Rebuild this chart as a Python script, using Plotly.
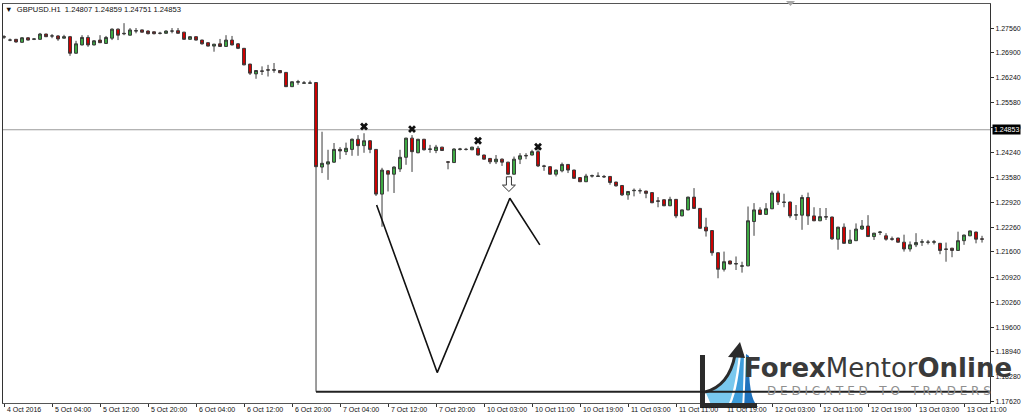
import plotly.graph_objects as go

# GBPUSD H1, 4 Oct 2016 20:00 -> 13 Oct 2016 ~14:00 (one bar per hour, weekend skipped)
opens = [
    1.2733, 1.2724, 1.2726, 1.2718, 1.2730, 1.2726, 1.2726, 1.2740, 1.2735, 1.2735,
    1.2729, 1.2733, 1.2689, 1.2711, 1.2731, 1.2711, 1.2724, 1.2715, 1.2729, 1.2753,
    1.2742, 1.2737, 1.2748, 1.2751, 1.2748, 1.2746, 1.2742, 1.2742, 1.2748, 1.2749,
    1.2745, 1.2726, 1.2733, 1.2724, 1.2717, 1.2708, 1.2714, 1.2707, 1.2724, 1.2714,
    1.2702, 1.2660, 1.2634, 1.2642, 1.2645, 1.2645, 1.2643, 1.2638, 1.2600, 1.2612,
    1.2609, 1.2609, 1.2611, 1.2386, 1.2394, 1.2399, 1.2433, 1.2427, 1.2433, 1.2460,
    1.2443, 1.2456, 1.2433, 1.2314, 1.2376, 1.2367, 1.2381, 1.2412, 1.2463, 1.2424,
    1.2460, 1.2433, 1.2430, 1.2439, 1.2400, 1.2398, 1.2433, 1.2433, 1.2432, 1.2436,
    1.2418, 1.2409, 1.2400, 1.2407, 1.2399, 1.2367, 1.2407, 1.2417, 1.2418, 1.2427,
    1.2389, 1.2387, 1.2367, 1.2376, 1.2393, 1.2378, 1.2358, 1.2347, 1.2362, 1.2361,
    1.2361, 1.2361, 1.2346, 1.2337, 1.2312, 1.2323, 1.2323, 1.2322, 1.2318, 1.2296,
    1.2299, 1.2283, 1.2300, 1.2256, 1.2272, 1.2306, 1.2276, 1.2226, 1.2217, 1.2158,
    1.2114, 1.2136, 1.2128, 1.2122, 1.2123, 1.2241, 1.2272, 1.2260, 1.2275, 1.2317,
    1.2293, 1.2293, 1.2258, 1.2258, 1.2305, 1.2256, 1.2243, 1.2254, 1.2253, 1.2194,
    1.2226, 1.2183, 1.2190, 1.2221, 1.2229, 1.2201, 1.2212, 1.2203, 1.2195, 1.2197,
    1.2186, 1.2168, 1.2179, 1.2186, 1.2186, 1.2186, 1.2183, 1.2168, 1.2170, 1.2164,
    1.2190, 1.2203, 1.2213, 1.2195,
]
highs = [
    1.2737, 1.2728, 1.2727, 1.2732, 1.2732, 1.2729, 1.2743, 1.2741, 1.2740, 1.2737,
    1.2738, 1.2735, 1.2722, 1.2737, 1.2737, 1.2724, 1.2737, 1.2735, 1.2755, 1.2755,
    1.2769, 1.2756, 1.2756, 1.2752, 1.2750, 1.2747, 1.2746, 1.2750, 1.2756, 1.2756,
    1.2746, 1.2734, 1.2734, 1.2725, 1.2718, 1.2714, 1.2727, 1.2737, 1.2735, 1.2716,
    1.2703, 1.2661, 1.2644, 1.2654, 1.2658, 1.2663, 1.2644, 1.2639, 1.2614, 1.2618,
    1.2615, 1.2616, 1.2612, 1.2480, 1.2432, 1.2450, 1.2439, 1.2451, 1.2462, 1.2471,
    1.2476, 1.2458, 1.2434, 1.2384, 1.2378, 1.2388, 1.2432, 1.2464, 1.2471, 1.2461,
    1.2461, 1.2445, 1.2445, 1.2440, 1.2401, 1.2436, 1.2437, 1.2437, 1.2440, 1.2442,
    1.2419, 1.2410, 1.2418, 1.2409, 1.2400, 1.2414, 1.2423, 1.2423, 1.2432, 1.2439,
    1.2392, 1.2388, 1.2379, 1.2398, 1.2394, 1.2379, 1.2359, 1.2368, 1.2366, 1.2372,
    1.2365, 1.2362, 1.2347, 1.2338, 1.2322, 1.2329, 1.2329, 1.2323, 1.2319, 1.2306,
    1.2300, 1.2307, 1.2301, 1.2273, 1.2307, 1.2330, 1.2277, 1.2251, 1.2218, 1.2159,
    1.2161, 1.2137, 1.2148, 1.2134, 1.2281, 1.2290, 1.2279, 1.2290, 1.2323, 1.2323,
    1.2315, 1.2294, 1.2285, 1.2312, 1.2318, 1.2279, 1.2277, 1.2277, 1.2254, 1.2227,
    1.2236, 1.2219, 1.2236, 1.2245, 1.2258, 1.2211, 1.2216, 1.2210, 1.2201, 1.2198,
    1.2206, 1.2188, 1.2210, 1.2194, 1.2192, 1.2192, 1.2184, 1.2185, 1.2171, 1.2214,
    1.2206, 1.2217, 1.2214, 1.2203,
]
lows = [
    1.2727, 1.2721, 1.2717, 1.2717, 1.2723, 1.2724, 1.2725, 1.2732, 1.2729, 1.2722,
    1.2728, 1.2682, 1.2688, 1.2710, 1.2706, 1.2710, 1.2716, 1.2714, 1.2724, 1.2724,
    1.2737, 1.2736, 1.2742, 1.2744, 1.2739, 1.2739, 1.2739, 1.2741, 1.2742, 1.2741,
    1.2725, 1.2725, 1.2723, 1.2712, 1.2707, 1.2693, 1.2706, 1.2706, 1.2710, 1.2700,
    1.2657, 1.2631, 1.2621, 1.2631, 1.2627, 1.2637, 1.2636, 1.2599, 1.2599, 1.2605,
    1.2609, 1.2609, 1.1788, 1.2370, 1.2352, 1.2397, 1.2407, 1.2418, 1.2416, 1.2416,
    1.2424, 1.2423, 1.2309, 1.2227, 1.2321, 1.2317, 1.2373, 1.2392, 1.2373, 1.2423,
    1.2430, 1.2424, 1.2423, 1.2429, 1.2380, 1.2397, 1.2430, 1.2430, 1.2431, 1.2417,
    1.2406, 1.2394, 1.2394, 1.2389, 1.2366, 1.2366, 1.2394, 1.2407, 1.2417, 1.2386,
    1.2376, 1.2366, 1.2361, 1.2372, 1.2370, 1.2355, 1.2346, 1.2346, 1.2358, 1.2360,
    1.2357, 1.2339, 1.2334, 1.2309, 1.2299, 1.2308, 1.2315, 1.2303, 1.2290, 1.2279,
    1.2282, 1.2282, 1.2250, 1.2255, 1.2271, 1.2275, 1.2222, 1.2201, 1.2150, 1.2090,
    1.2108, 1.2127, 1.2112, 1.2105, 1.2122, 1.2203, 1.2259, 1.2259, 1.2274, 1.2285,
    1.2279, 1.2250, 1.2245, 1.2219, 1.2232, 1.2242, 1.2242, 1.2245, 1.2192, 1.2166,
    1.2182, 1.2182, 1.2189, 1.2219, 1.2200, 1.2192, 1.2205, 1.2190, 1.2190, 1.2185,
    1.2161, 1.2161, 1.2173, 1.2176, 1.2180, 1.2180, 1.2154, 1.2134, 1.2146, 1.2163,
    1.2179, 1.2202, 1.2183, 1.2185,
]
closes = [
    1.2732, 1.2724, 1.2719, 1.2730, 1.2724, 1.2727, 1.2740, 1.2733, 1.2735, 1.2727,
    1.2733, 1.2689, 1.2714, 1.2731, 1.2711, 1.2722, 1.2717, 1.2731, 1.2753, 1.2737,
    1.2741, 1.2751, 1.2749, 1.2745, 1.2741, 1.2741, 1.2742, 1.2748, 1.2748, 1.2742,
    1.2726, 1.2733, 1.2724, 1.2714, 1.2708, 1.2713, 1.2707, 1.2724, 1.2711, 1.2702,
    1.2658, 1.2636, 1.2643, 1.2641, 1.2644, 1.2644, 1.2637, 1.2600, 1.2613, 1.2613,
    1.2610, 1.2610, 1.2387, 1.2396, 1.2400, 1.2433, 1.2429, 1.2436, 1.2460, 1.2443,
    1.2456, 1.2433, 1.2314, 1.2378, 1.2367, 1.2386, 1.2412, 1.2463, 1.2427, 1.2460,
    1.2432, 1.2434, 1.2439, 1.2430, 1.2399, 1.2434, 1.2434, 1.2433, 1.2439, 1.2418,
    1.2407, 1.2400, 1.2407, 1.2399, 1.2367, 1.2407, 1.2416, 1.2416, 1.2427, 1.2389,
    1.2388, 1.2367, 1.2378, 1.2393, 1.2378, 1.2356, 1.2347, 1.2362, 1.2363, 1.2362,
    1.2360, 1.2345, 1.2336, 1.2312, 1.2321, 1.2324, 1.2323, 1.2316, 1.2291, 1.2295,
    1.2283, 1.2300, 1.2256, 1.2272, 1.2306, 1.2276, 1.2223, 1.2216, 1.2158, 1.2114,
    1.2134, 1.2128, 1.2129, 1.2123, 1.2243, 1.2272, 1.2260, 1.2275, 1.2317, 1.2293,
    1.2292, 1.2256, 1.2259, 1.2305, 1.2256, 1.2243, 1.2254, 1.2253, 1.2195, 1.2226,
    1.2183, 1.2192, 1.2221, 1.2229, 1.2201, 1.2210, 1.2213, 1.2194, 1.2194, 1.2186,
    1.2168, 1.2179, 1.2185, 1.2187, 1.2186, 1.2187, 1.2164, 1.2167, 1.2164, 1.2190,
    1.2205, 1.2216, 1.2194, 1.2194,
]
bars = list(range(len(opens)))

tick_bars = list(range(0, 161, 8))
tick_labels = [
    "4 Oct 2016", "5 Oct 04:00", "5 Oct 12:00", "5 Oct 20:00", "6 Oct 04:00",
    "6 Oct 12:00", "6 Oct 20:00", "7 Oct 04:00", "7 Oct 12:00", "7 Oct 20:00",
    "10 Oct 03:00", "10 Oct 11:00", "10 Oct 19:00", "11 Oct 03:00", "11 Oct 11:00",
    "11 Oct 19:00", "12 Oct 03:00", "12 Oct 11:00", "12 Oct 19:00", "13 Oct 03:00",
    "13 Oct 11:00",
]
price_ticks = [1.27560, 1.26900, 1.26240, 1.25580, 1.24900, 1.24240, 1.23580, 1.22920,
               1.22260, 1.21600, 1.20920, 1.20260, 1.19600, 1.18940, 1.18280, 1.17620]

bid_price = 1.24853
crash_low = 1.1788
cross_bars = [60, 68, 79, 89]
cross_prices = [1.2494, 1.2487, 1.2456, 1.2440]
v_bars = [62.1, 72.2, 84.3, 89.3]
v_prices = [1.2285, 1.1839, 1.2303, 1.2179]
arrow_bar = 84.15
arrow_top, arrow_neck, arrow_tip = 1.2360, 1.2338, 1.2321

x_range = [-0.17, 164.33]
y_range = [1.1758, 1.2820]
FONT = "Liberation Sans, Arial, sans-serif"
LOGO_FONT = "DejaVu Sans, sans-serif"

# plot area in pixels (for the watermark drawn in paper coords)
PL, PR, PT, PB = 3, 990, 4, 403


def pp(x, y):
    return (x - PL) / (PR - PL), (PB - y) / (PB - PT)


def path(points, close=True):
    s = ""
    for k, (x, y) in enumerate(points):
        px, py = pp(x, y)
        s += ("M" if k == 0 else "L") + f"{px:.5f},{py:.5f} "
    return s + ("Z" if close else "")


def qpath(pts):
    # list of (command, [points]) in pixels -> svg path in paper units
    s = ""
    for cmd, coords in pts:
        conv = [pp(x, y) for x, y in coords]
        s += cmd + " ".join(f"{a:.5f},{b:.5f}" for a, b in conv) + " "
    return s


fig = go.Figure()
fig.add_trace(go.Candlestick(
    x=bars, open=opens, high=highs, low=lows, close=closes,
    increasing=dict(line=dict(color="#3a3a3a", width=1), fillcolor="#3fae45"),
    decreasing=dict(line=dict(color="#3a3a3a", width=1), fillcolor="#d10000"),
    whiskerwidth=0, showlegend=False, hoverinfo="skip",
))
fig.add_trace(go.Scatter(
    x=v_bars, y=v_prices, mode="lines",
    line=dict(color="#111111", width=1.6), showlegend=False, hoverinfo="skip",
))
fig.add_trace(go.Scatter(
    x=cross_bars, y=cross_prices, mode="markers",
    marker=dict(symbol="x", size=7, color="#111111", line=dict(width=0)),
    showlegend=False, hoverinfo="skip",
))

shapes = [
    dict(type="line", xref="paper", x0=0, x1=1, yref="y", y0=bid_price, y1=bid_price,
         line=dict(color="#9a9a9a", width=1), layer="below"),
]

# hollow down arrow
sw, hw = 0.42, 1.08
arrow_path = (f"M{arrow_bar - sw},{arrow_top} L{arrow_bar + sw},{arrow_top} "
              f"L{arrow_bar + sw},{arrow_neck} L{arrow_bar + hw},{arrow_neck} "
              f"L{arrow_bar},{arrow_tip} L{arrow_bar - hw},{arrow_neck} "
              f"L{arrow_bar - sw},{arrow_neck} Z")
shapes.append(dict(type="path", xref="x", yref="y", path=arrow_path,
                   fillcolor="white", line=dict(color="#333333", width=1)))

# ForexMentorOnline watermark
shapes += [
    dict(type="path", xref="paper", yref="paper", fillcolor="#79c8ee", line=dict(width=0),
         path=qpath([("M", [(706, 393)]), ("Q", [(728, 388), (736, 354)]),
                     ("L", [(739, 354)]), ("Q", [(734, 396), (727, 407)]),
                     ("L", [(712, 407)]), ("Z", [])])),
    dict(type="path", xref="paper", yref="paper", fillcolor="#3d9ddb", line=dict(width=0),
         path=qpath([("M", [(729, 407)]), ("Q", [(737, 396), (741, 354)]),
                     ("L", [(744, 354)]), ("Q", [(743, 398), (742, 407)]), ("Z", [])])),
    dict(type="path", xref="paper", yref="paper", fillcolor="#1f72bd", line=dict(width=0),
         path=qpath([("M", [(744, 407)]), ("Q", [(745, 396), (746, 354)]),
                     ("L", [(749, 356)]), ("Q", [(748, 398), (758, 407)]), ("Z", [])])),
    dict(type="path", xref="paper", yref="paper", line=dict(color="#2b2b2b", width=3),
         path=qpath([("M", [(705, 392)]), ("Q", [(729, 386), (735, 355)])])),
    dict(type="path", xref="paper", yref="paper", fillcolor="#2b2b2b", line=dict(width=0),
         path=path([(728, 357), (740, 342), (745, 358)])),
    dict(type="path", xref="paper", yref="paper", fillcolor="#2b2b2b", line=dict(width=0),
         path=path([(700, 355), (705, 355), (705, 403), (757, 403), (757, 408), (700, 408)])),
    dict(type="path", xref="paper", yref="paper", fillcolor="#a8a8a8", line=dict(width=0),
         path=path([(786, 1), (795, 1), (790.5, 6)])),
]

annotations = [
    dict(xref="paper", yref="paper", x=pp(3, 0)[0], y=pp(0, 9)[1], xanchor="left",
         yanchor="middle", showarrow=False,
         text="\u25BC  GBPUSD.H1  1.24807 1.24859 1.24751 1.24853",
         font=dict(family=FONT, size=7.6, color="#111111")),
    dict(xref="paper", yref="y", x=1, y=bid_price, xanchor="left", yanchor="middle",
         xshift=2, showarrow=False, text="1.24853", bgcolor="#000000", borderpad=1,
         font=dict(family=FONT, size=7, color="#ffffff")),
    dict(xref="paper", yref="paper", x=pp(742, 0)[0], y=pp(0, 368)[1], xanchor="left",
         yanchor="middle", showarrow=False,
         text="<b>Forex</b>Mentor<b>Online</b>",
         font=dict(family=LOGO_FONT, size=26, color="#3a3a3a")),
    dict(xref="paper", yref="paper", x=pp(765, 0)[0], y=pp(0, 391)[1], xanchor="left",
         yanchor="middle", showarrow=False,
         text="D E D I C A T E D \u00a0 T O \u00a0 T R A D E R S",
         font=dict(family=LOGO_FONT, size=12, color="#8f8f8f")),
]
for b, lab in zip(tick_bars, tick_labels):
    annotations.append(dict(xref="x", yref="paper", x=b, y=0, xanchor="left", yanchor="top",
                            xshift=1, yshift=-1, showarrow=False, text=lab,
                            font=dict(family=FONT, size=7, color="#111111")))

# flash-crash low line, drawn over the watermark text like in the screenshot
shapes.append(dict(type="line", xref="x", x0=52, x1=x_range[1], yref="y",
                   y0=crash_low, y1=crash_low, line=dict(color="#222222", width=2)))

fig.update_layout(
    width=1024, height=414,
    margin=dict(l=PL, r=1024 - PR, t=PT, b=414 - PB),
    paper_bgcolor="white", plot_bgcolor="white",
    font=dict(family=FONT, size=7, color="#111111"),
    xaxis=dict(range=x_range, tickvals=tick_bars, showticklabels=False, ticks="outside",
               ticklen=3, tickcolor="#333333", showgrid=False, zeroline=False,
               showline=True, linecolor="#555555", mirror=True,
               rangeslider=dict(visible=False)),
    yaxis=dict(range=y_range, side="right", tickvals=price_ticks,
               ticktext=[f"{p:.5f}" for p in price_ticks], ticks="outside", ticklen=3,
               tickcolor="#333333", showgrid=False, zeroline=False, showline=True,
               linecolor="#333333", mirror=True, tickfont=dict(size=7)),
    shapes=shapes, annotations=annotations,
)

fig.write_html("out.html", config={"displayModeBar": False},
               post_script="document.body.style.margin='0';")
